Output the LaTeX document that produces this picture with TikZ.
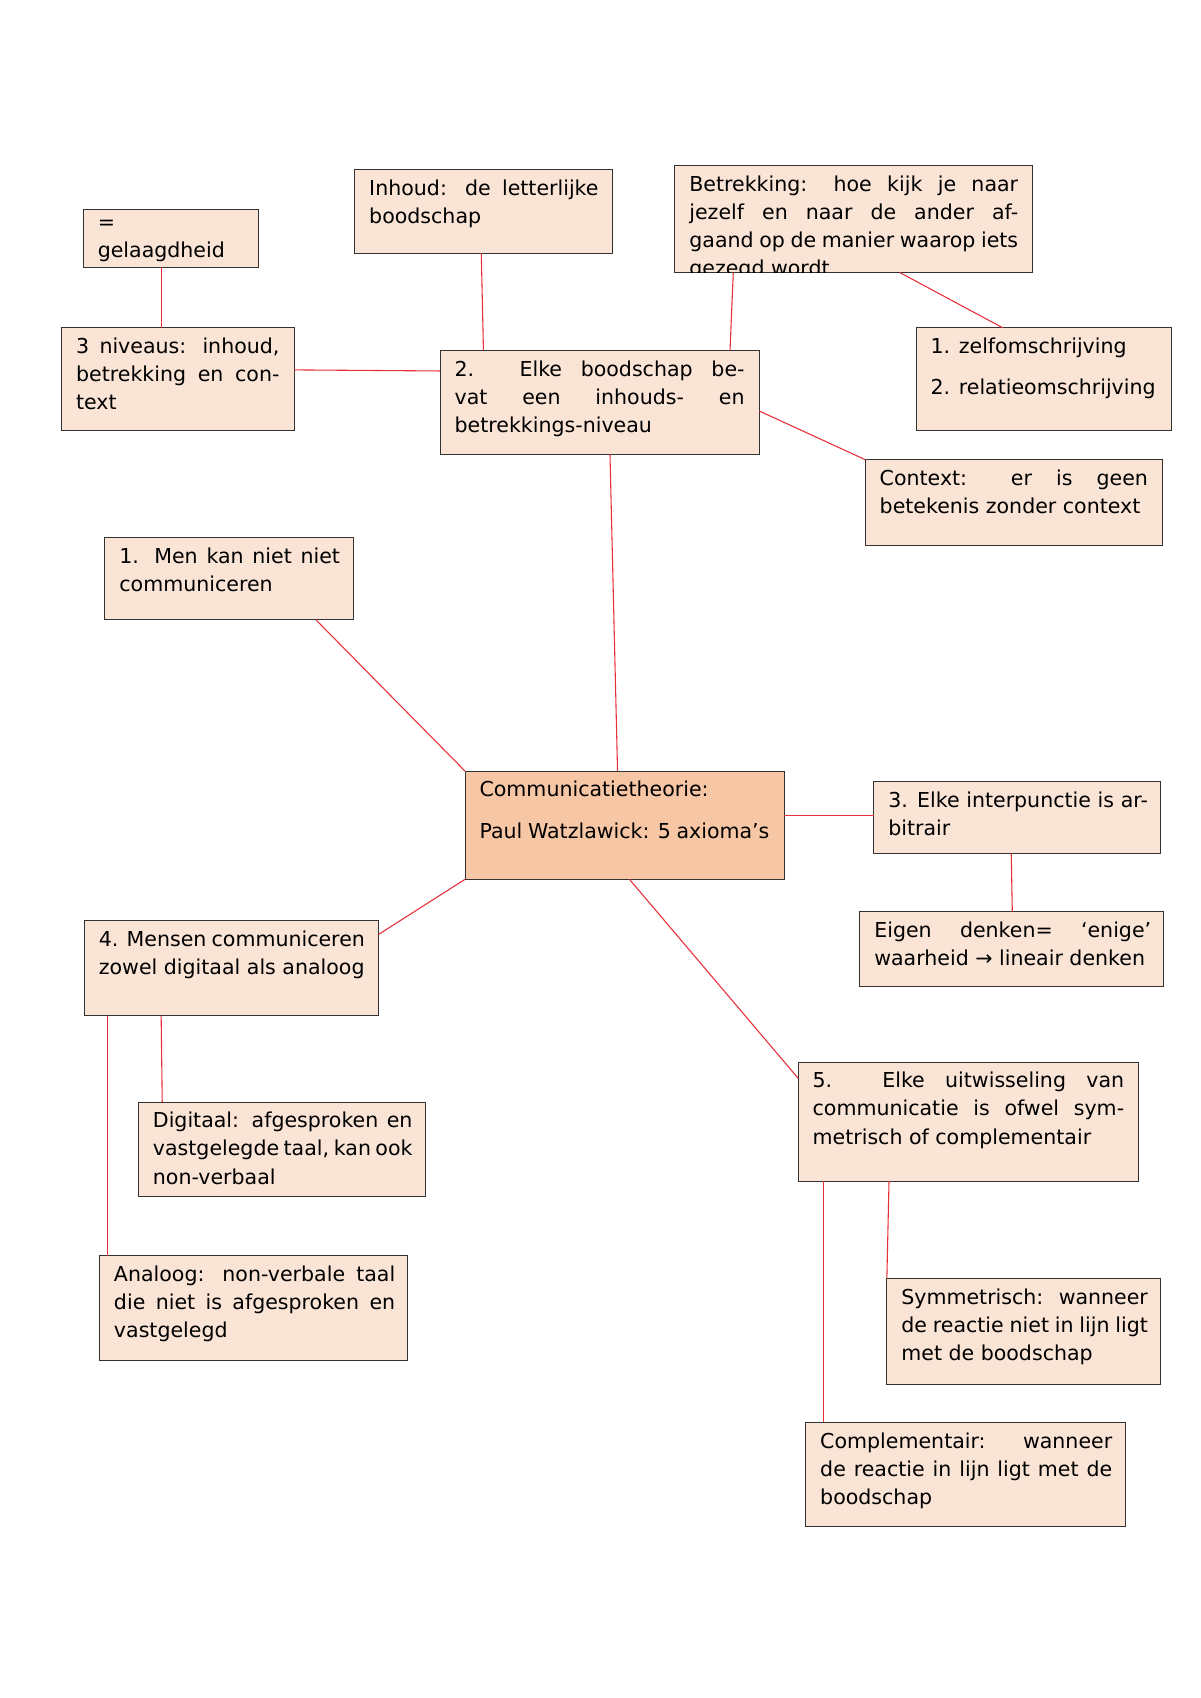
\documentclass[tikz,border=0pt]{standalone}
\usepackage{fontspec}
\setmainfont{DejaVu Sans}
\usetikzlibrary{calc}
\definecolor{boxfill}{HTML}{FAE4D6}
\definecolor{mainfill}{HTML}{F7C7A5}
\definecolor{linkred}{HTML}{E8303A}
\tikzset{
  box/.style={draw=black!80, line width=0.5pt},
  txt/.style={anchor=north west, inner sep=0pt, align=justify,
    font=\fontsize{9.5}{13}\selectfont},
  link/.style={draw=linkred, line width=0.5pt},
}
% name, north west, south east, fill, text width (pt), text
\newcommand\clipbox[6]{%
  \path[box,fill=#4] (#2) rectangle (#3);
  \coordinate (#1-nw) at (#2);
  \begin{scope}
    \clip (#2) rectangle (#3);
    \node[txt,text width=#5pt] (#1) at ($(#2)+(13,9)$) {#6};
  \end{scope}}
\begin{document}
\begin{tikzpicture}[x=0.5pt,y=-0.5pt]
  \useasboundingbox[fill=white] (0,0) rectangle (1110,1570);

  % boxes
  \clipbox{gelaagd}{77,194}{239,247}{boxfill}{68}{= gelaagdheid}
  \clipbox{inhoud}{328,157}{566,234}{boxfill}{106}{Inhoud: de letterlijke boodschap}
  \clipbox{betrek}{624,153}{955,252}{boxfill}{152}{Betrekking: hoe kijk je naar jezelf en naar de ander afgaand op de manier waarop iets gezegd wordt}
  \clipbox{niveaus}{57,303}{272,398}{boxfill}{94}{3 niveaus: inhoud, betrekking en context}
  \clipbox{ax2}{407,324}{702,420}{boxfill}{134}{2. Elke boodschap bevat een inhouds- en betrekkings-niveau}
  \clipbox{omschr}{847,303}{1083,398}{boxfill}{105}{1. zelfomschrijving\\[6pt]2. relatieomschrijving}
  \clipbox{context}{800,425}{1075,504}{boxfill}{124}{Context: er is geen betekenis zonder context}
  \clipbox{ax1}{97,497}{327,573}{boxfill}{102}{1. Men kan niet niet communiceren}
  \clipbox{main}{430,713}{725,813}{mainfill}{134}{Communicatietheorie:\\[6pt]Paul Watzlawick: 5 axioma’s}
  \clipbox{ax3}{808,723}{1073,789}{boxfill}{120}{3. Elke interpunctie is arbitrair}
  \clipbox{eigen}{795,843}{1076,912}{boxfill}{128}{Eigen denken= ‘enige’ waarheid → lineair denken}
  \clipbox{ax4}{78,851}{350,939}{boxfill}{123}{4. Mensen communiceren zowel digitaal als analoog}
  \clipbox{digi}{128,1019}{393,1106}{boxfill}{120}{Digitaal: afgesproken en vastgelegde taal, kan ook non-verbaal}
  \clipbox{analoog}{92,1161}{377,1258}{boxfill}{130}{Analoog: non-verbale taal die niet is afgesproken en vastgelegd}
  \clipbox{ax5}{738,982}{1053,1092}{boxfill}{144}{5. Elke uitwisseling van communicatie is ofwel symmetrisch of complementair}
  \clipbox{symm}{820,1182}{1073,1280}{boxfill}{114}{Symmetrisch: wanneer de reactie niet in lijn ligt met de boodschap}
  \clipbox{compl}{745,1315}{1041,1411}{boxfill}{135}{Complementair: wanneer de reactie in lijn ligt met de boodschap}

  % connector ends
  \coordinate (g-s) at (149,247);   \coordinate (n-n) at (149,303);
  \coordinate (n-e) at (272,342);   \coordinate (a2-w) at (407,343);
  \coordinate (i-s) at (445,234);   \coordinate (a2-n1) at (447,324);
  \coordinate (b-s) at (678,252);   \coordinate (a2-n2) at (675,324);
  \coordinate (b-s2) at (832,252);  \coordinate (o-n) at (927,303);
  \coordinate (a2-e) at (702,380);  \coordinate (c-nw) at (800,425);
  \coordinate (a2-s) at (564,420);  \coordinate (m-n) at (571,713);
  \coordinate (a1-s) at (292,573);  \coordinate (m-nw) at (430,713);
  \coordinate (m-e) at (725,754);   \coordinate (a3-w) at (808,754);
  \coordinate (a3-s) at (935,789);  \coordinate (e-n) at (936,843);
  \coordinate (m-sw) at (430,813);  \coordinate (a4-e) at (350,864);
  \coordinate (m-s) at (582,813);   \coordinate (a5-w) at (738,997);
  \coordinate (a4-s1) at (99,939);  \coordinate (an-n) at (99,1161);
  \coordinate (a4-s2) at (149,939); \coordinate (d-n) at (150,1019);
  \coordinate (a5-s1) at (761,1092); \coordinate (co-n) at (761,1315);
  \coordinate (a5-s2) at (822,1092); \coordinate (s-n) at (820,1182);

  % connectors
  \draw[link] (g-s) -- (n-n);
  \draw[link] (n-e) -- (a2-w);
  \draw[link] (i-s) -- (a2-n1);
  \draw[link] (b-s) -- (a2-n2);
  \draw[link] (b-s2) -- (o-n);
  \draw[link] (a2-e) -- (c-nw);
  \draw[link] (a2-s) -- (m-n);
  \draw[link] (a1-s) -- (m-nw);
  \draw[link] (m-e) -- (a3-w);
  \draw[link] (a3-s) -- (e-n);
  \draw[link] (m-sw) -- (a4-e);
  \draw[link] (m-s) -- (a5-w);
  \draw[link] (a4-s1) -- (an-n);
  \draw[link] (a4-s2) -- (d-n);
  \draw[link] (a5-s1) -- (co-n);
  \draw[link] (a5-s2) -- (s-n);
\end{tikzpicture}
\end{document}
